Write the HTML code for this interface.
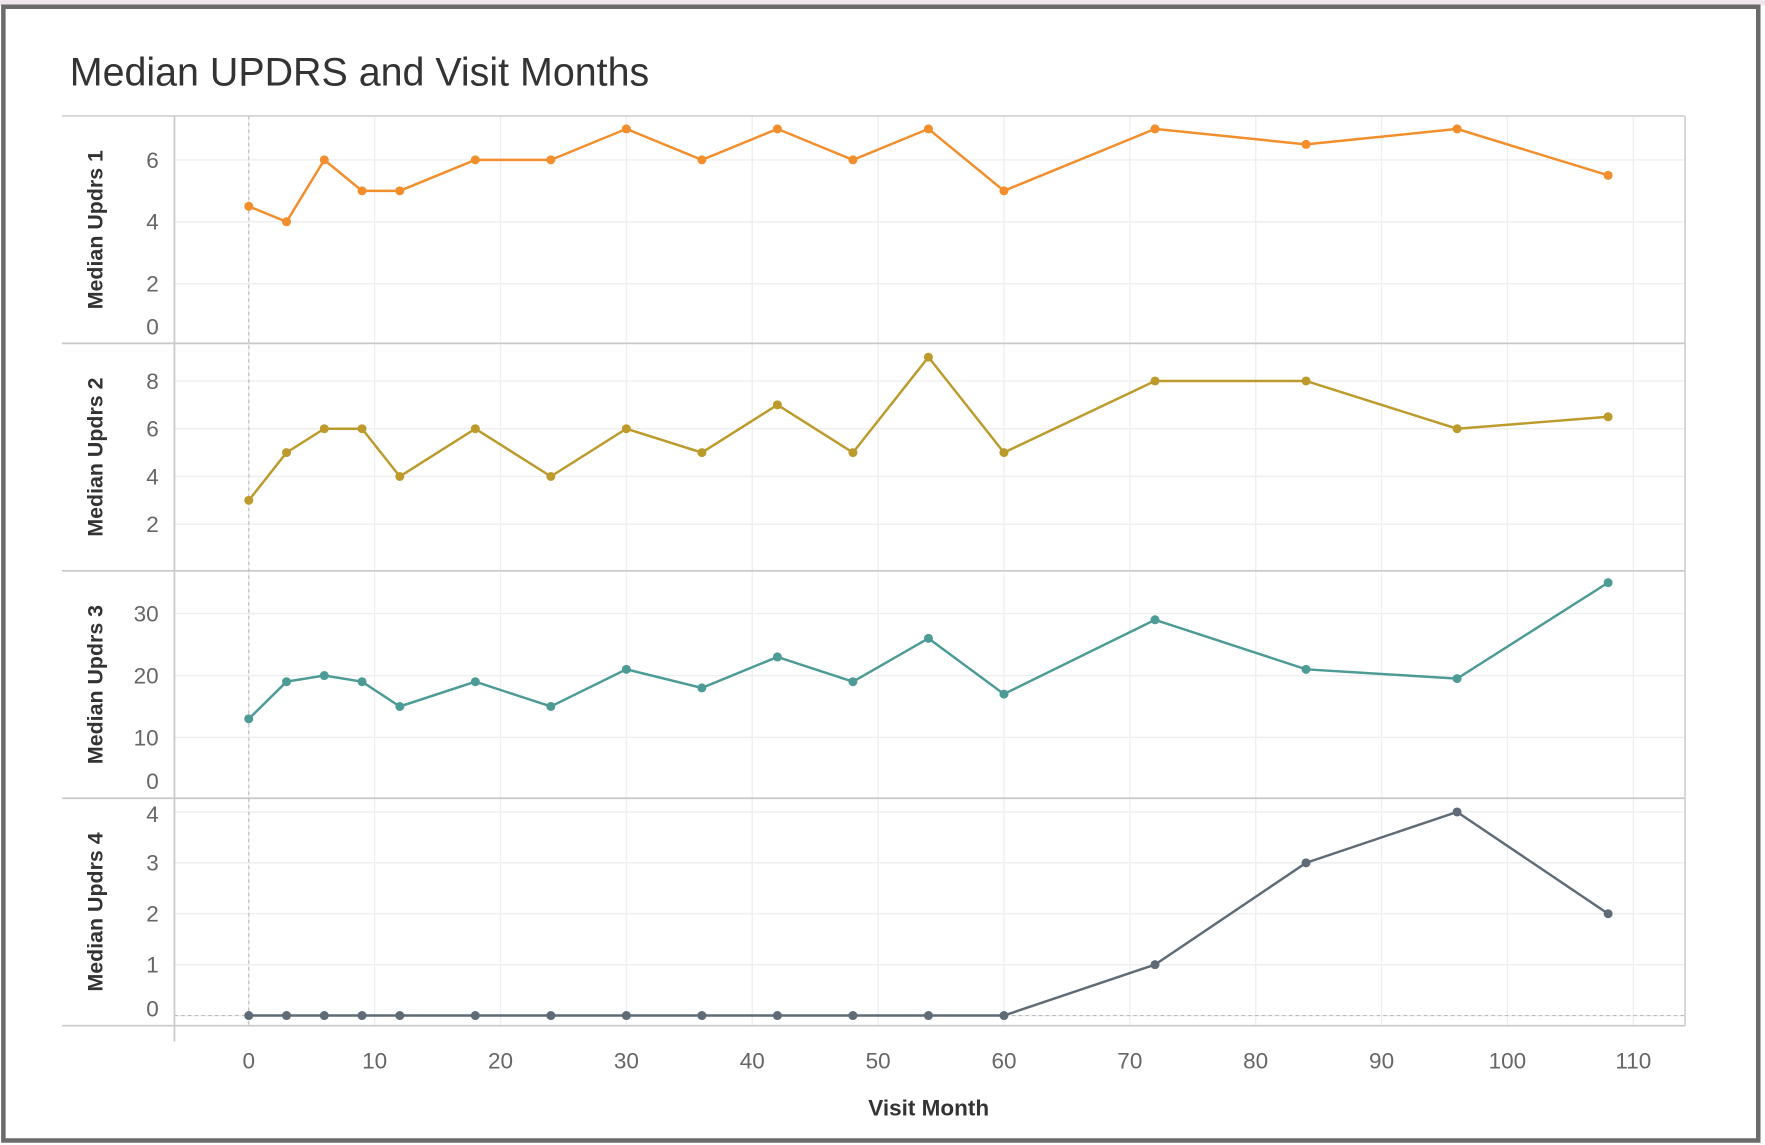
<!DOCTYPE html>
<html><head><meta charset="utf-8"><style>
html,body{margin:0;padding:0;background:#fff;}
svg{display:block;}
text{font-family:"Liberation Sans",sans-serif;}
</style></head><body>
<svg id="chart" width="1765" height="1145" viewBox="0 0 1568 1017" preserveAspectRatio="none" xmlns="http://www.w3.org/2000/svg">
<rect x="0" y="0" width="1568" height="1017" fill="#fff"/>
<rect x="0" y="0" width="1568" height="5" fill="#efe6ee"/>
<rect x="3" y="6" width="1559" height="1007" fill="#fff" stroke="#6b6b6b" stroke-width="4"/>
<text x="62" y="76" font-size="35" fill="#333">Median UPDRS and Visit Months</text>
<g id="grid"></g>
<g id="marks"></g>
<text x="825" y="991" font-size="20" font-weight="bold" fill="#333" text-anchor="middle">Visit Month</text>
</svg>
<script>
const months=[0,3,6,9,12,18,24,30,36,42,48,54,60,72,84,96,108];
const updrs1=[4.5,4,6,5,5,6,6,7,6,7,6,7,5,7,6.5,7,5.5];
const updrs2=[3,5,6,6,4,6,4,6,5,7,5,9,5,8,8,6,6.5];
const updrs3=[13,19,20,19,15,19,15,21,18,23,19,26,17,29,21,19.5,35];
const updrs4=[0,0,0,0,0,0,0,0,0,0,0,0,0,1,3,4,2];
const xTicks=[0,10,20,30,40,50,60,70,80,90,100,110];
const ticks1=[0,2,4,6];
const ticks2=[2,4,6,8];
const ticks3=[0,10,20,30];
const ticks4=[0,1,2,3,4];

const SVGNS="http://www.w3.org/2000/svg";
const plotL=155,plotR=1497;
const xScale=v=>221+(v-0)*(1451-221)/110;
function mk(parent,tag,attrs){const e=document.createElementNS(SVGNS,tag);for(const k in attrs)e.setAttribute(k,attrs[k]);parent.appendChild(e);return e;}
const gridG=document.getElementById('grid'),marksG=document.getElementById('marks');
const panels=[
 {pTop:103,pBot:305,zeroY:307,per:27.5,vals:updrs1,ticks:ticks1,color:'#f28e2b',title:'Median Updrs 1',key:'updrs-1'},
 {pTop:305,pBot:507,zeroY:508,per:21.2,vals:updrs2,ticks:ticks2,color:'#bc9b2c',title:'Median Updrs 2',key:'updrs-2'},
 {pTop:507,pBot:709,zeroY:710,per:5.5,vals:updrs3,ticks:ticks3,color:'#4c9b96',title:'Median Updrs 3',key:'updrs-3'},
 {pTop:709,pBot:911,zeroY:902,per:45.2,vals:updrs4,ticks:ticks4,color:'#5f6b77',title:'Median Updrs 4',key:'updrs-4'}
];
xTicks.forEach(t=>{
 const l=mk(gridG,'line',{x1:xScale(t),x2:xScale(t),y1:103,y2:911,stroke:'#efefef','stroke-width':1.2});
 
 
 const tx=mk(gridG,'text',{x:xScale(t),y:949,'font-size':20,fill:'#666','text-anchor':'middle'});
 tx.textContent=t;
 
 
});
panels.forEach(p=>{
 const yS=v=>p.zeroY-v*p.per;
 p.ticks.forEach(t=>{
  const yy=yS(t);
  if(yy>p.pTop+2&&yy<p.pBot-2){
   const gl=mk(gridG,'line',{x1:plotL,x2:plotR,y1:yy,y2:yy,stroke:'#eeeeee','stroke-width':1.2});
   
   
  }
  const ly=Math.min(Math.max(yy,p.pTop+14),p.pBot-15);
  const tl=mk(gridG,'text',{x:141,y:ly+7,'font-size':20,fill:'#666','text-anchor':'end'});
  tl.textContent=t;
  
  
 });
 const cy=(p.pTop+p.pBot)/2;
 const at=mk(gridG,'text',{x:0,y:0,'font-size':19,'font-weight':'bold',fill:'#333','text-anchor':'middle',transform:`translate(91 ${cy}) rotate(-90)`});
 at.textContent=p.title;
 
 
 const sep=mk(gridG,'line',{x1:55,x2:plotR,y1:p.pBot,y2:p.pBot,stroke:'#c8c8c8','stroke-width':1.5});
 
 
 const pts=months.map((m,i)=>xScale(m)+','+yS(p.vals[i])).join(' ');
 const pl=mk(marksG,'polyline',{points:pts,fill:'none',stroke:p.color,'stroke-width':2.2});
 
 
 months.forEach((m,i)=>{
  const c=mk(marksG,'circle',{cx:xScale(m),cy:yS(p.vals[i]),r:4,fill:p.color});
  
  
 });
});
const zl=mk(gridG,'line',{x1:plotL,x2:plotR,y1:902,y2:902,stroke:'#bbb','stroke-width':1,'stroke-dasharray':'3,3'});


const vz=mk(gridG,'line',{x1:xScale(0),x2:xScale(0),y1:103,y2:911,stroke:'#bbb','stroke-width':1,'stroke-dasharray':'3,3'});


const headerLine=mk(gridG,'line',{x1:55,x2:plotR,y1:103,y2:103,stroke:'#d0d0d0','stroke-width':1.5});


const yAxisLine=mk(gridG,'line',{x1:plotL,x2:plotL,y1:103,y2:925,stroke:'#c8c8c8','stroke-width':1.5});


const rightBorder=mk(gridG,'line',{x1:plotR,x2:plotR,y1:103,y2:911,stroke:'#d0d0d0','stroke-width':1.5});


</script>
</body></html>
